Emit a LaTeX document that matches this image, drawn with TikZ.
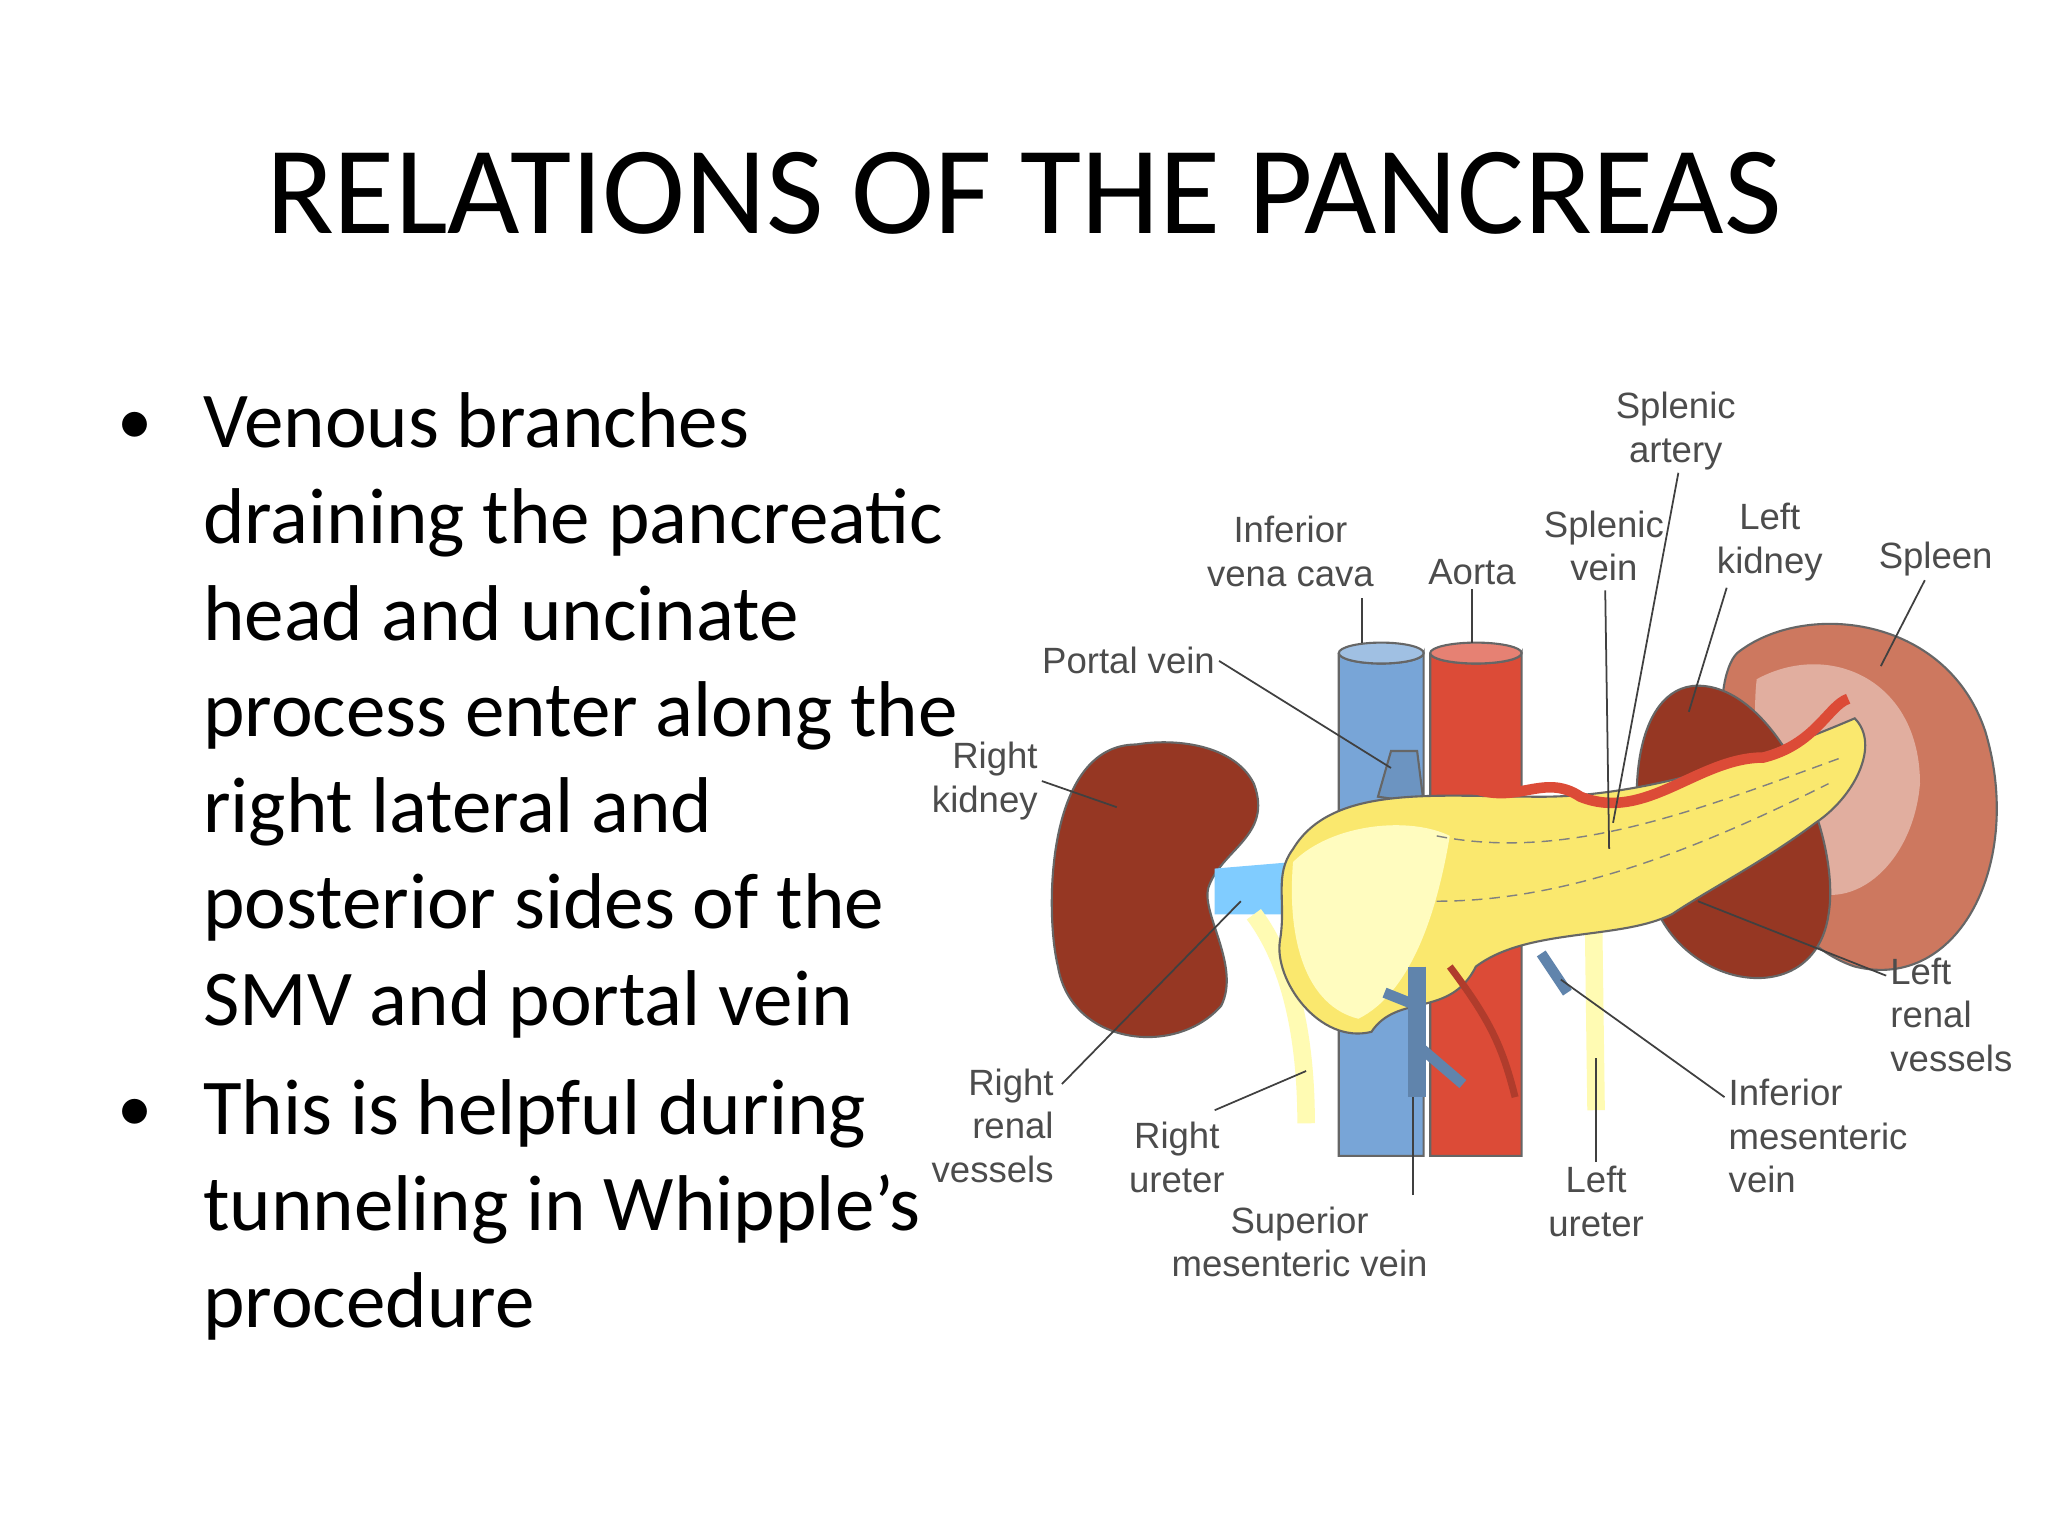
\documentclass[tikz,border=0pt]{standalone}
\usepackage{fontspec}
\setmainfont{Carlito}
\newfontfamily\lab{Liberation Sans}
\begin{document}
\begin{tikzpicture}[x=0.013061cm,y=-0.013061cm,
 lbl/.style={font=\lab\fontsize{10.4}{12.4}\selectfont,text=black!70,align=center,inner sep=1pt},
 lead/.style={draw=black!75,line width=0.5pt},
 organ/.style={draw=black!60,line width=0.6pt},
 body/.style={anchor=north west,align=left,inner sep=0,font=\fontsize{22.5}{27.4}\selectfont}]
\useasboundingbox (0,0) rectangle (1568,1176);
\fill[white] (0,0) rectangle (1568,1176);
\node (title) at (784,148) {\fontsize{35.6}{40}\selectfont RELATIONS OF THE PANCREAS};
\node[body] (t1) at (155,300) {Venous branches\\draining the pancreatic\\head and uncinate\\process enter along the\\right lateral and\\posterior sides of the\\SMV and portal vein};
\node[body] (t2) at (155,826) {This is helpful during\\tunneling in Whipple’s\\procedure};
\node[anchor=base,font=\fontsize{20}{24}\selectfont] (b1) at (103,340) {•};
\node[anchor=base,font=\fontsize{20}{24}\selectfont] (b2) at (103,866) {•};
% spleen
\definecolor{spl}{RGB}{205,120,95}
\definecolor{kid}{RGB}{150,55,35}
\fill[organ,fill=spl] (1330,500) .. controls (1380,460) and (1490,470) .. (1520,560) .. controls (1550,660) and (1500,760) .. (1420,740) .. controls (1360,720) and (1330,640) .. (1320,580) .. controls (1315,540) and (1320,510) .. (1330,500);
\fill[spl!60] (1345,520) .. controls (1400,490) and (1470,520) .. (1470,600) .. controls (1465,660) and (1420,700) .. (1380,680) .. controls (1350,640) and (1340,560) .. (1345,520);
% left kidney
\fill[organ,fill=kid] (1300,525) .. controls (1250,525) and (1240,620) .. (1270,700) .. controls (1300,760) and (1390,770) .. (1400,700) .. controls (1410,640) and (1360,525) .. (1300,525);
% right kidney
\fill[organ,fill=kid] (870,570) .. controls (800,570) and (800,700) .. (810,740) .. controls (820,800) and (900,810) .. (935,770) .. controls (950,740) and (920,700) .. (925,680) .. controls (935,650) and (975,640) .. (960,600) .. controls (945,570) and (900,565) .. (870,570);
% renal vessels
\fill[blue!40!cyan!50] (930,665) -- (990,660) -- (990,700) -- (930,700) -- cycle;
\draw[yellow!30!white,line width=5pt] (960,700) .. controls (990,740) and (1000,800) .. (1000,860);
\draw[yellow!30!white,line width=5pt] (1220,700) -- (1222,850);
% IVC
\definecolor{ivc}{RGB}{120,165,215}
\definecolor{aor}{RGB}{220,75,55}
\fill[organ,fill=ivc] (1025,500) -- (1025,885) -- (1090,885) -- (1090,500) arc(0:180:32.5 and 8);
\draw[organ,fill=ivc!70] (1057.5,500) ellipse (32.5 and 8);
% Aorta
\fill[organ,fill=aor] (1095,500) -- (1095,885) -- (1165,885) -- (1165,500) arc(0:180:35 and 8);
\draw[organ,fill=aor!70] (1130,500) ellipse (35 and 8);
% portal vein
\fill[organ,fill=ivc!90!black] (1055,610) -- (1065,575) -- (1085,575) -- (1090,615) -- cycle;
% pancreas
\definecolor{pan}{RGB}{250,232,110}
\fill[organ,fill=pan] (990,650) .. controls (1020,600) and (1100,610) .. (1180,610) .. controls (1260,610) and (1350,580) .. (1420,550) .. controls (1440,570) and (1420,610) .. (1390,630) .. controls (1350,660) and (1310,680) .. (1280,700) .. controls (1240,720) and (1170,710) .. (1130,740) .. controls (1110,780) and (1070,760) .. (1050,790) .. controls (1010,800) and (975,750) .. (980,720) .. controls (985,690) and (975,670) .. (990,650);
\fill[yellow!25] (990,660) .. controls (1020,630) and (1080,625) .. (1110,640) .. controls (1100,700) and (1080,760) .. (1040,780) .. controls (1000,770) and (985,720) .. (990,660);
\draw[black!50,densely dashed,line width=0.4pt] (1100,640) .. controls (1200,660) and (1300,620) .. (1410,580);
\draw[black!50,densely dashed,line width=0.4pt] (1100,690) .. controls (1200,690) and (1300,650) .. (1400,600);
% splenic artery
\draw[aor,line width=3pt] (1120,600) .. controls (1160,620) and (1180,590) .. (1210,610) .. controls (1260,630) and (1300,580) .. (1350,580) .. controls (1390,570) and (1400,540) .. (1415,535);
% SMV
\draw[ivc!80!black,line width=5pt] (1085,740) -- (1085,840);
\draw[ivc!80!black,line width=3pt] (1085,770) -- (1060,760) (1085,800) -- (1120,830) (1180,730) -- (1200,760);
\draw[aor!80!black,line width=2pt] (1110,740) .. controls (1140,780) and (1150,800) .. (1160,840);
% labels
\node[lbl] (sa) at (1283,330) {Splenic\\artery};
\node[lbl] (ivcl) at (988,422) {Inferior\\vena cava};
\node[lbl] (ao) at (1127,438) {Aorta};
\node[lbl] (sv) at (1228,418) {Splenic\\vein};
\node[lbl] (lk) at (1355,415) {Left\\kidney};
\node[lbl] (sp) at (1482,428) {Spleen};
\node[lbl] (pv) at (864,506) {Portal vein};
\node[lbl,align=right] (rk) at (754,598) {Right\\kidney};
\node[lbl,align=right] (rrv) at (760,862) {Right\\renal\\vessels};
\node[lbl] (ru) at (901,886) {Right\\ureter};
\node[lbl] (smv) at (995,951) {Superior\\mesenteric vein};
\node[lbl] (lu) at (1222,920) {Left\\ureter};
\node[lbl,align=left] (imv) at (1392,870) {Inferior\\mesenteric\\vein};
\node[lbl,align=left] (lrv) at (1494,777) {Left\\renal\\vessels};
\coordinate (csa) at (1235,630); \coordinate (civc) at (1043,492);
\coordinate (cao) at (1127,492); \coordinate (csv) at (1232,650);
\coordinate (clk) at (1293,545); \coordinate (csp) at (1440,510);
\coordinate (cpv) at (1065,588); \coordinate (crk) at (855,618);
\coordinate (crrv) at (950,690); \coordinate (cru) at (1000,820);
\coordinate (csmv) at (1082,840); \coordinate (clu) at (1222,810);
\coordinate (cimv) at (1195,750); \coordinate (clrv) at (1300,690);
\draw[lead] (1285,362) -- (csa);
\draw[lead] (1043,458) -- (civc);
\draw[lead] (ao) -- (cao);
\draw[lead] (1229,452) -- (csv);
\draw[lead] (1322,450) -- (clk);
\draw[lead] (sp) -- (csp);
\draw[lead] (pv.east) -- (cpv);
\draw[lead] (rk.east) -- (crk);
\draw[lead] (813,830) -- (crrv);
\draw[lead] (930,850) -- (cru);
\draw[lead] (1082,915) -- (csmv);
\draw[lead] (lu) -- (clu);
\draw[lead] (imv.west) ++(0,-30) -- (cimv);
\draw[lead] (lrv.west) ++(0,-30) -- (clrv);
\end{tikzpicture}
\end{document}
